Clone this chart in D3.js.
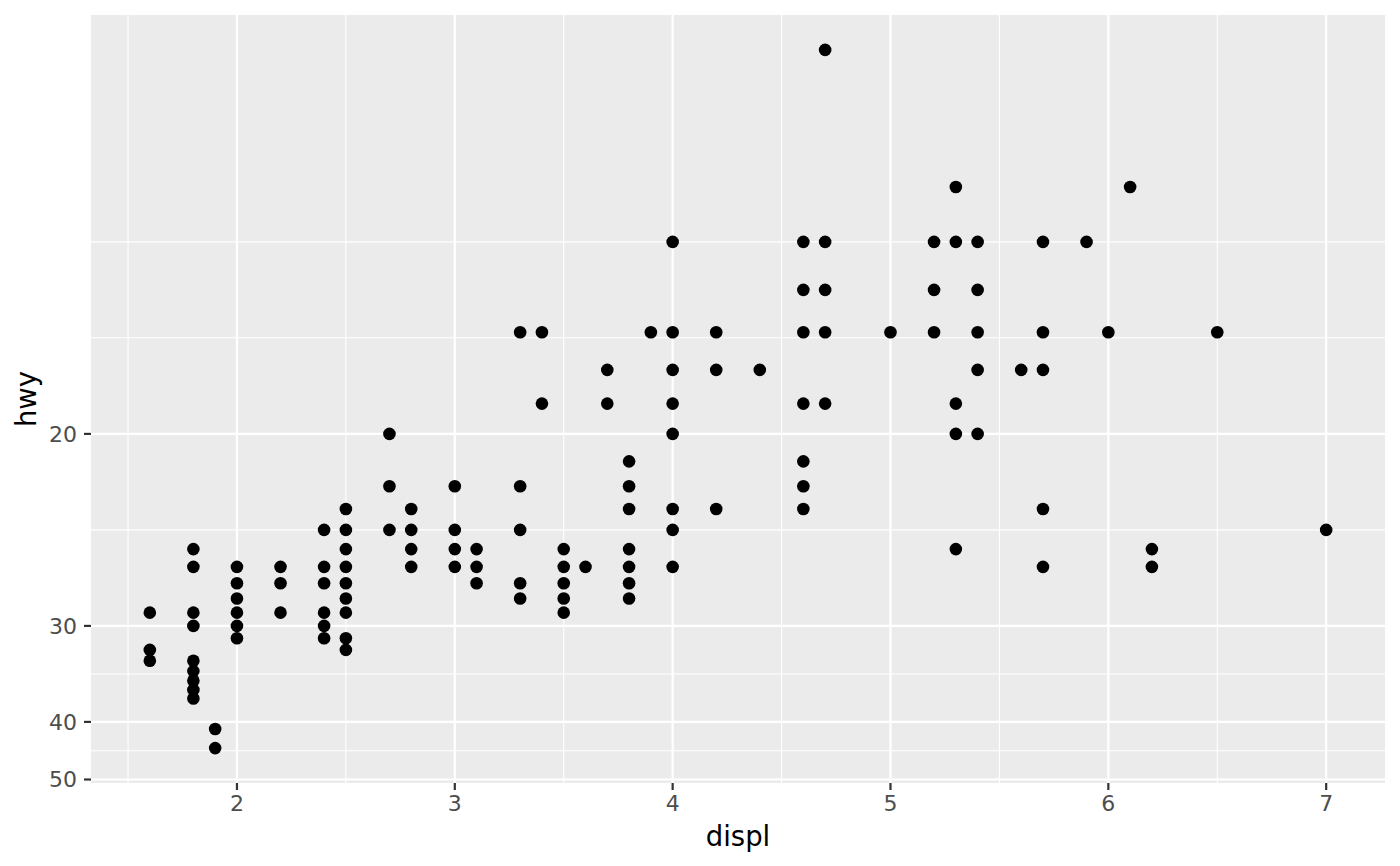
<!DOCTYPE html>
<html>
<head>
<meta charset="utf-8">
<script src="https://cdn.jsdelivr.net/npm/d3@7"></script>
<style>
    body { margin: 0; background: #fff; }
    text { font-family: "DejaVu Sans", sans-serif; }
</style>
</head>
<body>
<div id="chart"></div>
<script>
// Unique (displ, hwy) pairs
const displ = [
    1.6, 1.6, 1.6,
    1.8, 1.8, 1.8, 1.8, 1.8, 1.8, 1.8, 1.8, 1.8,
    1.9, 1.9,
    2.0, 2.0, 2.0, 2.0, 2.0, 2.0,
    2.2, 2.2, 2.2,
    2.4, 2.4, 2.4, 2.4, 2.4, 2.4,
    2.5, 2.5, 2.5, 2.5, 2.5, 2.5, 2.5, 2.5, 2.5,
    2.7, 2.7, 2.7,
    2.8, 2.8, 2.8, 2.8,
    3.0, 3.0, 3.0, 3.0,
    3.1, 3.1, 3.1,
    3.3, 3.3, 3.3, 3.3, 3.3,
    3.4, 3.4,
    3.5, 3.5, 3.5, 3.5, 3.5,
    3.6,
    3.7, 3.7,
    3.8, 3.8, 3.8, 3.8, 3.8, 3.8, 3.8,
    3.9,
    4.0, 4.0, 4.0, 4.0, 4.0, 4.0, 4.0, 4.0,
    4.2, 4.2, 4.2,
    4.4,
    4.6, 4.6, 4.6, 4.6, 4.6, 4.6, 4.6,
    4.7, 4.7, 4.7, 4.7, 4.7,
    5.0,
    5.2, 5.2, 5.2,
    5.3, 5.3, 5.3, 5.3, 5.3,
    5.4, 5.4, 5.4, 5.4, 5.4,
    5.6,
    5.7, 5.7, 5.7, 5.7, 5.7,
    5.9,
    6.0,
    6.1,
    6.2, 6.2,
    6.5,
    7.0
];
const hwy = [
    29, 32, 33,
    25, 26, 29, 30, 33, 34, 35, 36, 37,
    41, 44,
    26, 27, 28, 29, 30, 31,
    26, 27, 29,
    24, 26, 27, 29, 30, 31,
    23, 24, 25, 26, 27, 28, 29, 31, 32,
    20, 22, 24,
    23, 24, 25, 26,
    22, 24, 25, 26,
    25, 26, 27,
    17, 22, 24, 27, 28,
    17, 19,
    25, 26, 27, 28, 29,
    26,
    18, 19,
    21, 22, 23, 25, 26, 27, 28,
    17,
    15, 17, 18, 19, 20, 23, 24, 26,
    17, 18, 23,
    18,
    15, 16, 17, 19, 21, 22, 23,
    12, 15, 16, 17, 19,
    17,
    15, 16, 17,
    14, 15, 19, 20, 25,
    15, 16, 17, 18, 20,
    18,
    15, 17, 18, 23, 26,
    15,
    17,
    14,
    25, 26,
    17,
    24
];

const xTicks = [2, 3, 4, 5, 6, 7];
const xMinor = [1.5, 2.5, 3.5, 4.5, 5.5, 6.5];
const yTicks = [20, 30, 40, 50];
const yMinor = [15, 17.14, 24, 34.29, 44.44];

const width = 1400,
    height = 866;
const panel = { left: 91, right: 1385, top: 15, bottom: 783 };

// reciprocal transform for y
const inv = (v) => 1 / v;

function expand(ext, f) {
    const d = (ext[1] - ext[0]) * f;
    return [ext[0] - d, ext[1] + d];
}

const x = d3
    .scaleLinear()
    .domain(expand(d3.extent(displ), 0.05))
    .range([panel.left, panel.right]);

const y = d3
    .scaleLinear()
    .domain(expand(d3.extent(hwy, inv), 0.05))
    .range([panel.bottom, panel.top]);

const yPos = (v) => y(inv(v));

const svg = d3
    .select("#chart")
    .append("svg")
    .attr("width", width)
    .attr("height", height);

svg.append("rect")
    .attr("x", panel.left)
    .attr("y", panel.top)
    .attr("width", panel.right - panel.left)
    .attr("height", panel.bottom - panel.top)
    .attr("fill", "#EBEBEB");

const grid = svg.append("g").attr("stroke", "#fff");

// minor grid
grid.selectAll(".xminor")
    .data(xMinor)
    .enter()
    .append("line")
    .attr("x1", (d) => x(d))
    .attr("x2", (d) => x(d))
    .attr("y1", panel.top)
    .attr("y2", panel.bottom)
    .attr("stroke-width", 1.1);

grid.selectAll(".yminor")
    .data(yMinor)
    .enter()
    .append("line")
    .attr("x1", panel.left)
    .attr("x2", panel.right)
    .attr("y1", (d) => yPos(d))
    .attr("y2", (d) => yPos(d))
    .attr("stroke-width", 1.1);

// major grid
grid.selectAll(".xmajor")
    .data(xTicks)
    .enter()
    .append("line")
    .attr("x1", (d) => x(d))
    .attr("x2", (d) => x(d))
    .attr("y1", panel.top)
    .attr("y2", panel.bottom)
    .attr("stroke-width", 2.2);

grid.selectAll(".ymajor")
    .data(yTicks)
    .enter()
    .append("line")
    .attr("x1", panel.left)
    .attr("x2", panel.right)
    .attr("y1", (d) => yPos(d))
    .attr("y2", (d) => yPos(d))
    .attr("stroke-width", 2.2);

// points
const points = displ.map((d, i) => ({ displ: d, hwy: hwy[i] }));
svg.append("g")
    .selectAll("circle")
    .data(points)
    .enter()
    .append("circle")
    .attr("cx", (d) => x(d.displ))
    .attr("cy", (d) => yPos(d.hwy))
    .attr("r", 6.3)
    .attr("fill", "#000");

// x axis
const xAxis = svg.append("g");
xAxis.selectAll("line")
    .data(xTicks)
    .enter()
    .append("line")
    .attr("x1", (d) => x(d))
    .attr("x2", (d) => x(d))
    .attr("y1", panel.bottom)
    .attr("y2", panel.bottom + 7)
    .attr("stroke", "#333")
    .attr("stroke-width", 2.2);
xAxis.selectAll("text")
    .data(xTicks)
    .enter()
    .append("text")
    .attr("x", (d) => x(d))
    .attr("y", panel.bottom + 28)
    .attr("text-anchor", "middle")
    .attr("fill", "#4D4D4D")
    .style("font-size", "22px")
    .text((d) => d);

// y axis
const yAxis = svg.append("g");
yAxis.selectAll("line")
    .data(yTicks)
    .enter()
    .append("line")
    .attr("x1", panel.left - 7)
    .attr("x2", panel.left)
    .attr("y1", (d) => yPos(d))
    .attr("y2", (d) => yPos(d))
    .attr("stroke", "#333")
    .attr("stroke-width", 2.2);
yAxis.selectAll("text")
    .data(yTicks)
    .enter()
    .append("text")
    .attr("x", panel.left - 14)
    .attr("y", (d) => yPos(d))
    .attr("dy", "0.36em")
    .attr("text-anchor", "end")
    .attr("fill", "#4D4D4D")
    .style("font-size", "22px")
    .text((d) => d);

// axis titles
svg.append("text")
    .attr("x", (panel.left + panel.right) / 2)
    .attr("y", 846)
    .attr("text-anchor", "middle")
    .style("font-size", "27.5px")
    .text("displ");

svg.append("text")
    .attr("transform", "translate(36," + (panel.top + panel.bottom) / 2 + ") rotate(-90)")
    .attr("text-anchor", "middle")
    .style("font-size", "27.5px")
    .text("hwy");
</script>
</body>
</html>
